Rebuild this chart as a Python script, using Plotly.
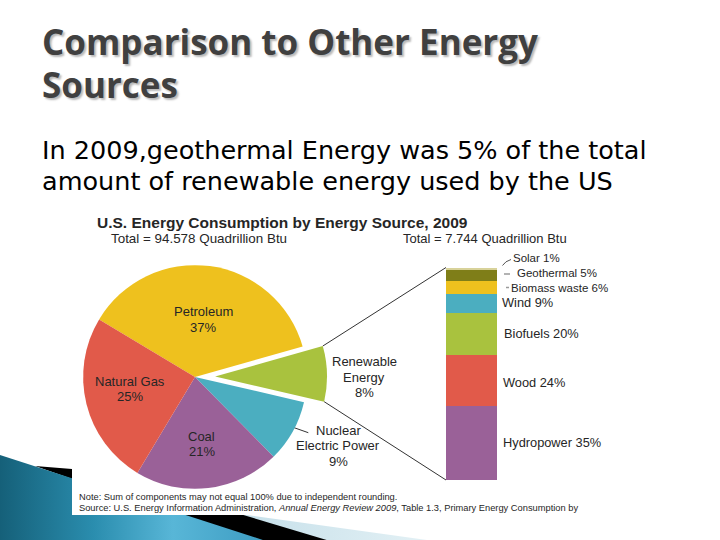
import math
import plotly.graph_objects as go

W, H = 720, 540

# ---------------- data ----------------
slide_title = ["Comparison to Other Energy", "Sources"]
body_lines = ["In 2009,geothermal Energy was 5% of the total",
              "amount of renewable energy used by the US"]

chart_title = "U.S. Energy Consumption by Energy Source, 2009"
pie_total = "Total = 94.578 Quadrillion Btu"
bar_total = "Total = 7.744 Quadrillion Btu"

pie_labels = ["Petroleum", "Renewable Energy", "Nuclear Electric Power", "Coal", "Natural Gas"]
pie_values = [37, 8, 9, 21, 25]
pie_label_lines = [["Petroleum"], ["Renewable", "Energy"], ["Nuclear", "Electric Power"],
                   ["Coal"], ["Natural Gas"]]

bar_labels = ["Hydropower", "Wood", "Biofuels", "Wind", "Biomass waste", "Geothermal", "Solar"]
bar_values = [35, 24, 20, 9, 6, 5, 1]

note_line = "Note: Sum of components may not equal 100% due to independent rounding."
source_line = ("Source: U.S. Energy Information Administration, <i>Annual Energy Review 2009</i>, "
               "Table 1.3, Primary Energy Consumption by")

# ---------------- styles ----------------
pie_colors = ["#EEC11E", "#A9C23E", "#4BAEC0", "#9A6198", "#E15A4A"]
bar_colors = ["#9A6198", "#E15A4A", "#A9C23E", "#4BAEC0", "#EEC11E", "#7F7E18", "#D8D29A"]
pull = [0, 0.18, 0, 0, 0]
rotation = -59
pie_dom_x = [63 / W, 327 / W]
pie_dom_y = [1 - 509 / H, 1 - 245 / H]
pie_label_pos = [(203, 319.5), (364, 377), (338, 445.8), (201.7, 444), (130, 389)]
bar_label_xshift = [5, 5, 6, 4, 13, 19, 15]
bar_label_yshift = [0, -2, 0, 0, -1, 2, 10.5]
bar_label_size = [12.8, 12.8, 12.8, 12.8, 11.5, 11.5, 11.5]
bar_x0, bar_x1, bar_top, bar_bot = 446, 497, 267.5, 480

CHART_FONT = "Liberation Sans, Arial, sans-serif"
TXT = "#262626"

fig = go.Figure()


def poly(pts, **kw):
    xs = [p[0] for p in pts] + [pts[0][0]]
    ys = [p[1] for p in pts] + [pts[0][1]]
    fig.add_trace(go.Scatter(x=xs, y=ys, mode="lines", fill="toself", line=dict(width=0),
                             hoverinfo="skip", showlegend=False, xaxis="x", yaxis="y", **kw))


def seg(pts, color, width=1):
    fig.add_trace(go.Scatter(x=[p[0] for p in pts], y=[p[1] for p in pts], mode="lines",
                             line=dict(color=color, width=width), hoverinfo="skip",
                             showlegend=False, xaxis="x", yaxis="y"))


# ---------------- slide decoration (bottom-left swoosh) ----------------
poly([(240, 514), (434, 541), (300, 541)],
     fillgradient=dict(type="horizontal", colorscale=[[0, "#C6E0EA"], [1, "#E4F1F5"]],
                       start=240, stop=434))
poly([(35, 466), (72, 469), (240, 514), (330, 541), (250, 541)], fillcolor="#000000")
poly([(0, 455), (266, 541), (0, 541)],
     fillgradient=dict(type="horizontal",
                       colorscale=[[0, "#156079"], [0.35, "#2A8DAE"], [0.65, "#58B6D7"], [1, "#3D9CC2"]],
                       start=0, stop=266))
# white chart picture
poly([(72, 205), (640, 205), (640, 515), (72, 515)], fillcolor="#FFFFFF")

# ---------------- pie ----------------
fig.add_trace(go.Pie(labels=pie_labels, values=pie_values, sort=False, direction="clockwise",
                     rotation=rotation, pull=pull, textinfo="none", hoverinfo="skip",
                     marker=dict(colors=pie_colors, line=dict(width=0)),
                     domain=dict(x=pie_dom_x, y=pie_dom_y), showlegend=False))

# geometry of the pulled slice (for connector lines)
cx = W * (pie_dom_x[0] + pie_dom_x[1]) / 2
box = min(W * (pie_dom_x[1] - pie_dom_x[0]), H * (pie_dom_y[1] - pie_dom_y[0]))
cy = H * (1 - pie_dom_y[0]) - box / 2
r = box / 2 / (1 + max(pull))
tot = sum(pie_values)
a0 = 90 - rotation - 360 * pie_values[0] / tot
a1 = a0 - 360 * pie_values[1] / tot
bis = math.radians((a0 + a1) / 2)
pcx, pcy = cx + pull[1] * r * math.cos(bis), cy - pull[1] * r * math.sin(bis)
c_top = (pcx + r * math.cos(math.radians(a0)), pcy - r * math.sin(math.radians(a0)))
c_bot = (pcx + r * math.cos(math.radians(a1)), pcy - r * math.sin(math.radians(a1)))
seg([c_top, (bar_x0, bar_top)], "#333333", 1)
seg([c_bot, (bar_x0, bar_bot)], "#333333", 1)

# small leader marks
seg([(293, 427.3), (308.3, 432.7)], "#333333", 1)
seg([(502.5, 265.5), (506, 261.8), (511, 259.5)], "#555555", 1)
seg([(504, 274), (510, 274)], "#9A9A9A", 1.5)
seg([(506, 287.5), (509, 287.5)], "#9A9A9A", 1.5)

# ---------------- stacked bar ----------------
for lab, val, col in zip(bar_labels, bar_values, bar_colors):
    fig.add_trace(go.Bar(x=[0], y=[val], width=1, name=lab, marker=dict(color=col, line=dict(width=0)),
                         xaxis="x2", yaxis="y2", hoverinfo="skip", showlegend=False))

annotations = []


def ann(x, y, text, size, color=TXT, family=CHART_FONT, xanchor="center", xref="x", yref="y",
        xshift=0, yshift=0, **fkw):
    annotations.append(dict(x=x, y=y, xref=xref, yref=yref, text=text, showarrow=False,
                            xanchor=xanchor, yanchor="middle", xshift=xshift, yshift=yshift,
                            borderpad=0,
                            font=dict(size=size, color=color, family=family, **fkw)))


# slide title & body
title_font = "Open Sans, sans-serif"
for txt, y in zip(slide_title, [41.5, 84.5]):
    ann(41, y, "<b>" + txt + "</b>", 35, color="#404040", family=title_font, xanchor="left",
        shadow="2px 2px 2px rgba(0,0,0,0.28)")
for txt, y in zip(body_lines, [150, 181]):
    ann(41, y, txt, 25.5, color="#000000", family="DejaVu Sans, sans-serif", xanchor="left")

# chart headings
ann(96, 222, "<b>" + chart_title + "</b>", 15.5, xanchor="left")
ann(198.5, 238, pie_total, 13.4)
ann(485, 238, bar_total, 13)

# pie labels
for lines, val, (px, py) in zip(pie_label_lines, pie_values, pie_label_pos):
    allines = lines + [f"{val}%"]
    n = len(allines)
    for i, t in enumerate(allines):
        ann(px, py + (i - (n - 1) / 2) * 15.3, t, 13)

# bar labels placed at segment midpoints on the bar axis
cum = 0
for lab, val, xs, ys, fs in zip(bar_labels, bar_values, bar_label_xshift, bar_label_yshift,
                                bar_label_size):
    mid = cum + val / 2
    cum += val
    ann(0.5, mid, f"{lab} {val}%", fs, xanchor="left", xref="x2", yref="y2", xshift=xs, yshift=ys)

# notes
ann(78, 496.7, note_line, 9.3, xanchor="left")
ann(78, 508.3, source_line, 9.3, xanchor="left")

fig.update_layout(
    width=W, height=H, margin=dict(l=0, r=0, t=0, b=0),
    paper_bgcolor="#FFFFFF", plot_bgcolor="rgba(0,0,0,0)",
    barmode="stack", bargap=0, hovermode=False, showlegend=False,
    xaxis=dict(domain=[0, 1], range=[0, W], visible=False, fixedrange=True),
    yaxis=dict(domain=[0, 1], range=[H, 0], visible=False, fixedrange=True),
    xaxis2=dict(domain=[bar_x0 / W, bar_x1 / W], range=[-0.5, 0.5], visible=False,
                anchor="y2", fixedrange=True),
    yaxis2=dict(domain=[1 - bar_bot / H, 1 - bar_top / H], range=[0, 100], visible=False,
                anchor="x2", fixedrange=True),
    annotations=annotations,
)

fig.write_html("out.html", config={"displayModeBar": False})
